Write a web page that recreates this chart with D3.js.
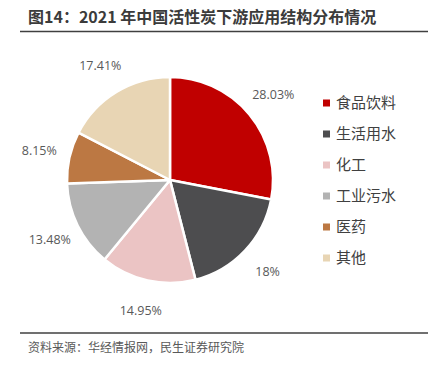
<!DOCTYPE html>
<html><head><meta charset="utf-8">
<script src="https://cdn.jsdelivr.net/npm/d3@7"></script>
<style>body{margin:0;background:#fff;}svg{display:block;}</style>
</head><body>
<svg id="c" width="428" height="365"></svg>
<script>
const categories = ["食品饮料","生活用水","化工","工业污水","医药","其他"];
const values = [28.03, 18, 14.95, 13.48, 8.15, 17.41];
const labels = ["28.03%","18%","14.95%","13.48%","8.15%","17.41%"];
const colors = ["#C00000","#4D4D4F","#EBC4C4","#B3B3B3","#BC7843","#E8D5B4"];

const svg = d3.select("#c");
const font = "'Noto Sans CJK SC','Microsoft YaHei',sans-serif";

svg.append("text").attr("x",28).attr("y",23)
  .attr("font-family",font).attr("font-weight","bold").attr("font-size",16)
  .attr("fill","#3b3b3b").text("图14：2021 年中国活性炭下游应用结构分布情况");
svg.append("line").attr("x1",20).attr("x2",428).attr("y1",31.5).attr("y2",31.5)
  .attr("stroke","#404040").attr("stroke-width",1.5);

const cx=170, cy=180, r=103;
const pie = d3.pie().sort(null).value(d=>d)(values);
const arc = d3.arc().innerRadius(0).outerRadius(r);
const labelArc = d3.arc().innerRadius(134).outerRadius(134);
const g = svg.append("g").attr("transform",`translate(${cx},${cy})`);
g.selectAll("path").data(pie).join("path")
  .attr("d",arc).attr("fill",(d,i)=>colors[i])
  .attr("stroke","#fff").attr("stroke-width",2.5).attr("stroke-linejoin","round");
g.selectAll("text.lbl").data(pie).join("text").attr("class","lbl")
  .attr("transform",d=>`translate(${labelArc.centroid(d)})`)
  .attr("text-anchor","middle").attr("dy","0.35em")
  .attr("font-family","'Open Sans',sans-serif").attr("font-size",12.5).attr("fill","#595959")
  .text((d,i)=>labels[i]);

const y = d3.scalePoint().domain(categories).range([103,258]);
const lg = svg.append("g");
categories.forEach((c,i)=>{
  lg.append("rect").attr("x",323).attr("y",y(c)-3.5).attr("width",7).attr("height",7).attr("fill",colors[i]);
  lg.append("text").attr("x",336).attr("y",y(c)).attr("dy","0.36em")
    .attr("font-family",font).attr("font-size",15).attr("fill","#404040").text(c);
});

svg.append("line").attr("x1",20).attr("x2",428).attr("y1",333).attr("y2",333)
  .attr("stroke","#404040").attr("stroke-width",1.5);
svg.append("text").attr("x",28).attr("y",352)
  .attr("font-family",font).attr("font-size",12).attr("fill","#595959")
  .text("资料来源：华经情报网，民生证券研究院");
</script>
</body></html>
